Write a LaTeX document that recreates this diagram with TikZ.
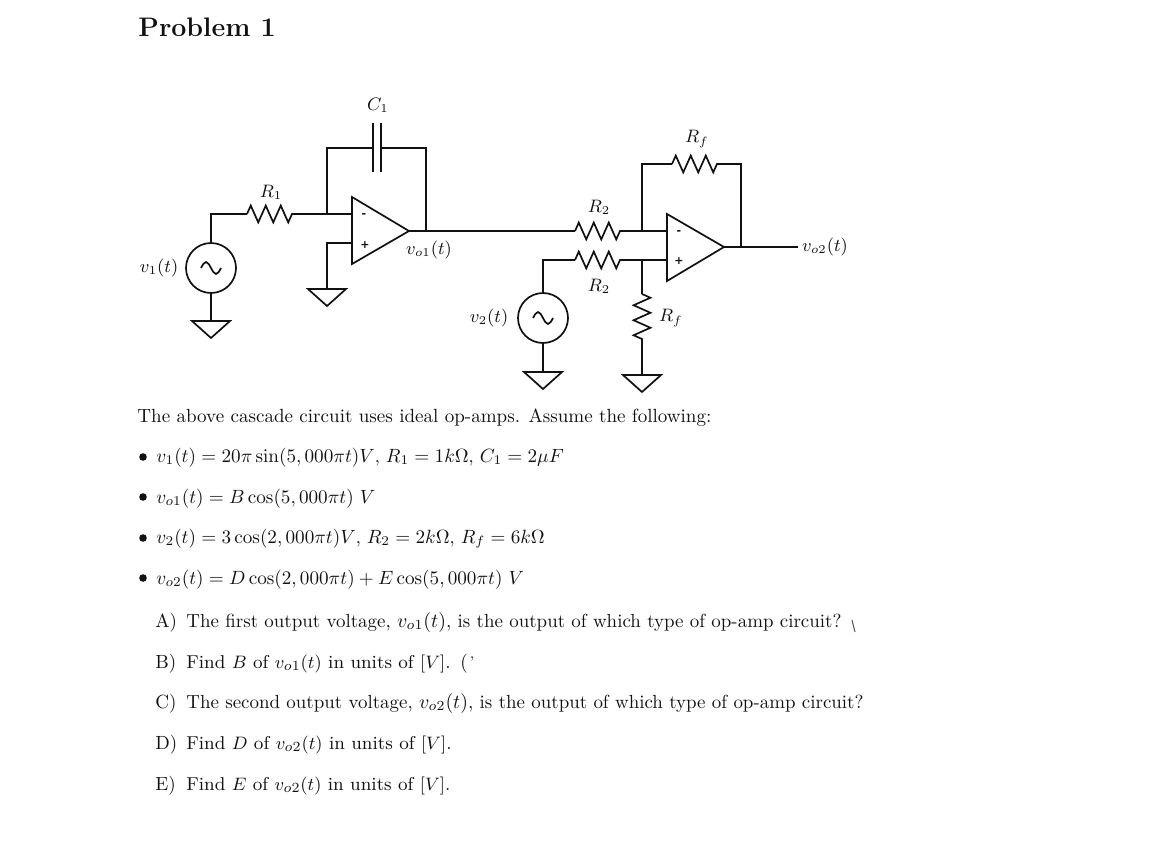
\documentclass[tikz,border=0pt]{standalone}
\usepackage[no-math]{fontspec}
\newfontfamily\signfont{DejaVu Sans}
\usetikzlibrary{calc,decorations.pathmorphing}
\definecolor{ink}{HTML}{111111}
\tikzset{
  wire/.style={draw=ink,line width=0.85pt,line join=miter},
  res/.style={wire,decorate,decoration={zigzag,segment length=7.5pt,amplitude=4.2pt}},
  srcnode/.style={circle,draw=ink,line width=0.85pt,minimum size=25pt,inner sep=0pt},
  lab/.style={inner sep=0pt,text=ink,font=\fontsize{8.8}{10}\selectfont},
  txt/.style={anchor=base west,inner sep=0pt,text=ink,font=\fontsize{9.53}{12}\selectfont},
  qtxt/.style={txt,scale=0.994},
  shorttxt/.style={txt,font=\fontsize{9.3}{12}\selectfont},
  mtxt/.style={txt,scale=0.958},
  sgn/.style={inner sep=0pt,text=ink,font=\signfont\bfseries\fontsize{5.5}{6}\selectfont},
  dot/.style={circle,fill=ink,minimum size=3.8pt,inner sep=0pt}
}
\newcommand{\gnd}[1]{\draw[wire] ($(#1)+(-19,0)$) -- ($(#1)+(19,0)$) -- ($(#1)+(0,17)$) -- cycle;}
\newcommand{\sinewave}[1]{\draw[wire] ($(#1)+(-10,0)$) sin ++(5,-6) cos ++(5,6) sin ++(5,6) cos ++(5,-6);}
\begin{document}
\begin{tikzpicture}[x=0.5pt,y=-0.5pt]
\useasboundingbox (0,0) rectangle (1170,856);
% sources
\node[srcnode] (s1) at (211,268) {};
\node[srcnode] (s2) at (543,318) {};
\sinewave{s1}\sinewave{s2}
% coordinates
\coordinate (c1) at (211,214);
\coordinate (r1a) at (247,214);
\coordinate (r1b) at (296,214);
\coordinate (j1) at (327,214);
\coordinate (m1) at (352,214);
\coordinate (p1) at (352,243);
\coordinate (t1a) at (352,197);
\coordinate (t1b) at (352,264);
\coordinate (o1) at (409,231);
\coordinate (fb1) at (327,148);
\coordinate (capl) at (373,148);
\coordinate (capr) at (381,148);
\coordinate (capla) at (373,123);
\coordinate (caplb) at (373,172);
\coordinate (capra) at (381,123);
\coordinate (caprb) at (381,172);
\coordinate (fb2) at (426,148);
\coordinate (j2) at (426,231);
\coordinate (pg1) at (327,243);
\coordinate (g1) at (327,289);
\coordinate (g0) at (211,321);
\coordinate (r2a) at (575,231);
\coordinate (r2b) at (623,231);
\coordinate (j3) at (642,231);
\coordinate (m2) at (667,231);
\coordinate (p2) at (667,260);
\coordinate (t2a) at (667,214);
\coordinate (t2b) at (667,281);
\coordinate (o2) at (724,247);
\coordinate (fb3) at (642,164);
\coordinate (rfa) at (672,164);
\coordinate (rfb) at (719,164);
\coordinate (fb4) at (741,164);
\coordinate (j4) at (741,247);
\coordinate (out) at (798,247);
\coordinate (c2) at (543,260);
\coordinate (r3a) at (575,260);
\coordinate (r3b) at (623,260);
\coordinate (j5) at (642,260);
\coordinate (r4a) at (642,294);
\coordinate (r4b) at (642,341);
\coordinate (g3) at (642,375);
\coordinate (g2) at (543,372);
% first stage
\draw[wire] (s1.north) -- (c1) -- (r1a);
\draw[res] (r1a) -- (r1b);
\draw[wire] (r1b) -- (m1);
\draw[wire] (j1) -- (fb1) -- (capl);
\draw[wire] (capla) -- (caplb);
\draw[wire] (capra) -- (caprb);
\draw[wire] (capr) -- (fb2) -- (j2);
\draw[wire] (t1a) -- (t1b) -- (o1) -- cycle;
\draw[wire] (p1) -- (pg1) -- (g1);
\gnd{g1}
\draw[wire] (s1.south) -- (g0);
\gnd{g0}
% second stage
\draw[wire] (o1) -- (r2a);
\draw[res] (r2a) -- (r2b);
\draw[wire] (r2b) -- (m2);
\draw[wire] (j3) -- (fb3) -- (rfa);
\draw[res] (rfa) -- (rfb);
\draw[wire] (rfb) -- (fb4) -- (j4);
\draw[wire] (t2a) -- (t2b) -- (o2) -- cycle;
\draw[wire] (o2) -- (out);
\draw[wire] (s2.north) -- (c2) -- (r3a);
\draw[res] (r3a) -- (r3b);
\draw[wire] (r3b) -- (p2);
\draw[wire] (j5) -- (r4a);
\draw[res] (r4a) -- (r4b);
\draw[wire] (r4b) -- (g3);
\gnd{g3}
\draw[wire] (s2.south) -- (g2);
\gnd{g2}
% op-amp signs
\node[sgn] (mn1) at (364,216) {-};
\node[sgn] (pl1) at (365,245) {+};
\node[sgn] (mn2) at (679,233) {-};
\node[sgn] (pl2) at (679,261) {+};
% labels
\node[lab] (lc1) at (378,105) {$C_1$};
\node[lab] (lr1) at (271,192) {$R_1$};
\node[lab] (lv1) at (159,268) {$v_1(t)$};
\node[lab] (lvo1) at (429,250) {$v_{o1}(t)$};
\node[lab] (lr2a) at (599,207) {$R_2$};
\node[lab] (lr2b) at (599,286) {$R_2$};
\node[lab] (lrf) at (697,139) {$R_f$};
\node[lab] (lrf2) at (671,318) {$R_f$};
\node[lab] (lv2) at (489,318) {$v_2(t)$};
\node[lab] (lvo2) at (825,247) {$v_{o2}(t)$};
% text
\node[txt,font=\bfseries\fontsize{13.4}{16}\selectfont] (title) at (138,37) {Problem 1};
\node[txt] (t0) at (137,422) {The above cascade circuit uses ideal op-amps. Assume the following:};
\node[dot] (b1) at (143,457) {};
\node[mtxt] (l1) at (156,462) {$v_1(t)=20\pi\sin(5,000\pi t)V$, $R_1=1k\Omega$, $C_1=2\mu F$};
\node[dot] (b2) at (143,497) {};
\node[mtxt] (l2) at (156,503) {$v_{o1}(t)=B\cos(5,000\pi t)\ V$};
\node[dot] (b3) at (143,538) {};
\node[mtxt] (l3) at (156,543) {$v_2(t)=3\cos(2,000\pi t)V$, $R_2=2k\Omega$, $R_f=6k\Omega$};
\node[dot] (b4) at (143,578) {};
\node[mtxt] (l4) at (156,584) {$v_{o2}(t)=D\cos(2,000\pi t)+E\cos(5,000\pi t)\ V$};
\node[txt] (qa) at (155,627) {A)};
\node[qtxt] (ta) at (186,627) {The first output voltage, $v_{o1}(t)$, is the output of which type of op-amp circuit?};
\node[txt] (qb) at (155,668) {B)};
\node[shorttxt] (tb) at (186,668) {Find $B$ of $v_{o1}(t)$ in units of $[V]$.};
\node[txt] (fb) at (460,668) {(\kern1pt\raisebox{1pt}{\scriptsize'}};
\node[txt] (qc) at (155,708) {C)};
\node[qtxt] (tc) at (186,708) {The second output voltage, $v_{o2}(t)$, is the output of which type of op-amp circuit?};
\node[txt] (qd) at (155,749) {D)};
\node[shorttxt] (td) at (186,749) {Find $D$ of $v_{o2}(t)$ in units of $[V]$.};
\node[txt] (qe) at (155,790) {E)};
\node[shorttxt] (te) at (186,790) {Find $E$ of $v_{o2}(t)$ in units of $[V]$.};
\coordinate (fa1) at (852,620);
\coordinate (fa2) at (855,632);
\draw[draw=ink!70,line width=0.5pt] (fa1) -- (fa2);
\end{tikzpicture}
\end{document}
